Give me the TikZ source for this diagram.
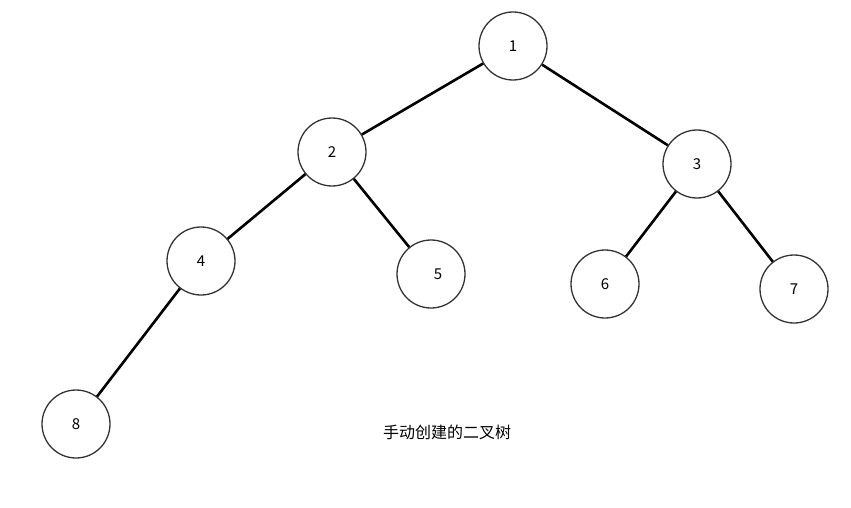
\documentclass[tikz,border=0pt]{standalone}
\usepackage{fontspec}
\setmainfont{Noto Sans CJK SC}
\begin{document}
\begin{tikzpicture}[x=1pt,y=-1pt,
  tn/.style={circle,draw=black!80,line width=1.3pt,minimum size=68pt,inner sep=0pt,font=\fontsize{15}{15}\selectfont},
  ed/.style={line width=2.6pt,black}]
\useasboundingbox (0,0) rectangle (851,508);
\node[tn] (n1) at (513,46) {1};
\node[tn] (n2) at (332,152) {2};
\node[tn] (n3) at (697,164) {3};
\node[tn] (n4) at (201,261) {4};
\node[tn] (n5) at (431,274) {\raisebox{-6pt}{\hspace{14pt}5}};
\node[tn] (n6) at (605,284) {6};
\node[tn] (n7) at (794,289) {\raisebox{-8pt}{7}};
\node[tn] (n8) at (76,424) {\raisebox{-6pt}{8}};
\draw[ed] (n1) -- (n2);
\draw[ed] (n1) -- (n3);
\draw[ed] (n2) -- (n4);
\draw[ed] (n2) -- (n5);
\draw[ed] (n3) -- (n6);
\draw[ed] (n3) -- (n7);
\draw[ed] (n4) -- (n8);
\node (cap) at (447,432) {\fontsize{16}{16}\selectfont 手动创建的二叉树};
\end{tikzpicture}
\end{document}
